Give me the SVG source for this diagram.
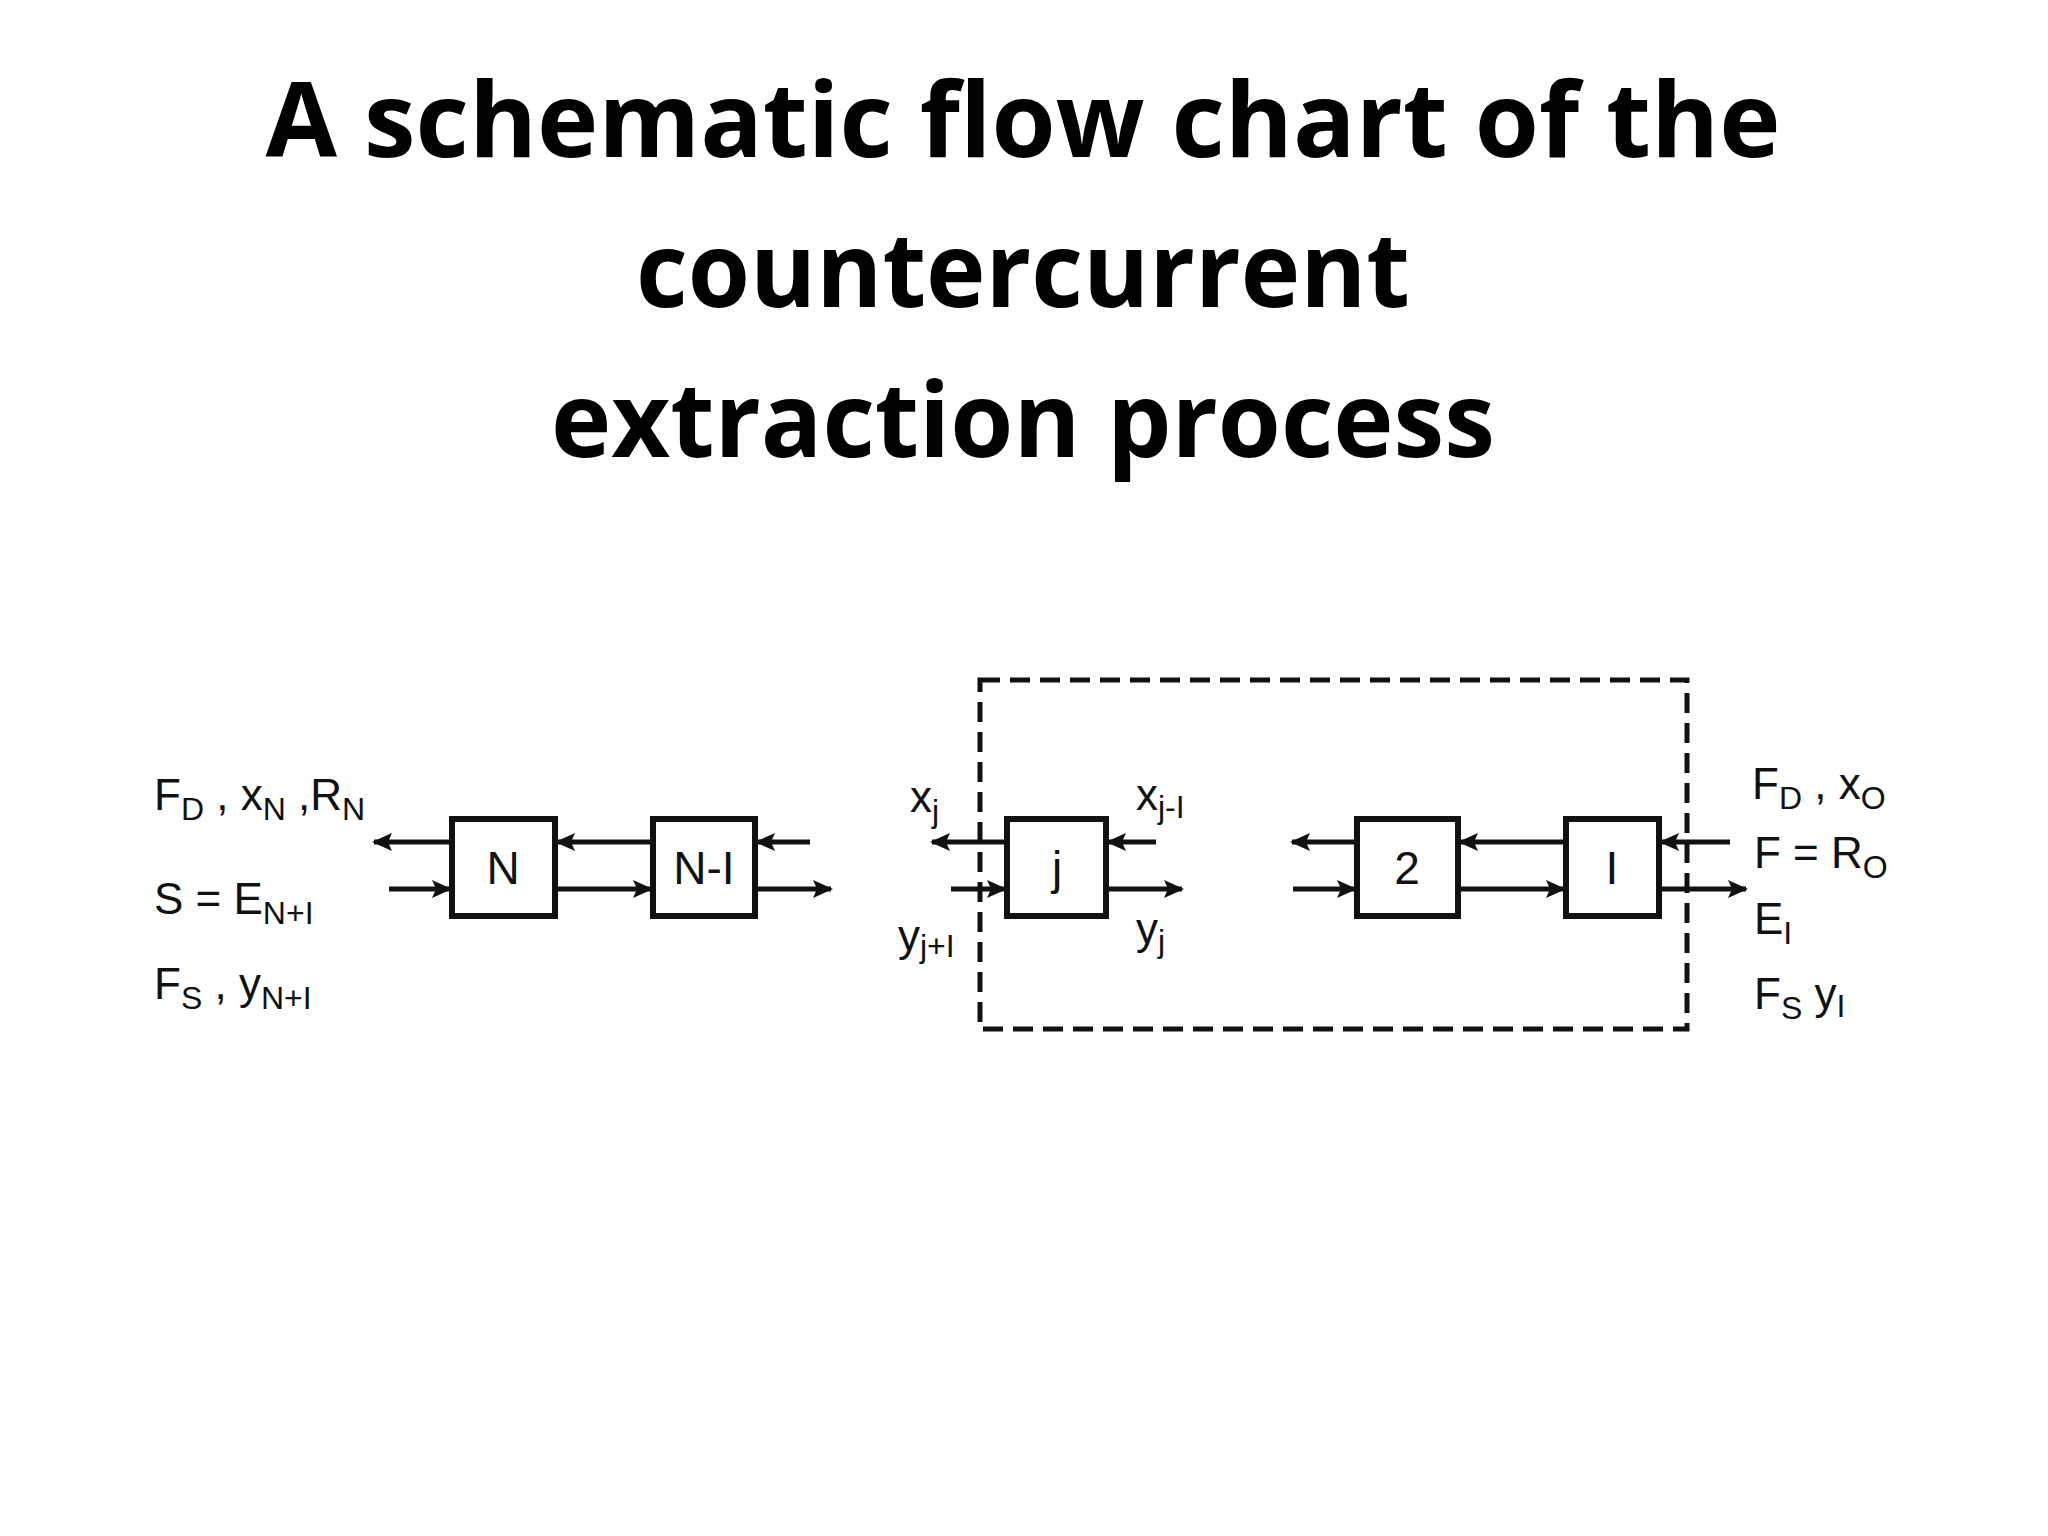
<svg xmlns="http://www.w3.org/2000/svg" width="2048" height="1536" viewBox="0 0 2048 1536">
<defs>
<style>
.t{font-family:"Open Sans","Liberation Sans",sans-serif;font-weight:bold;font-size:104px;fill:#000;text-anchor:middle}
.l{font-family:"Liberation Sans",Arial,sans-serif;font-size:44px;fill:#111}
.s{font-size:32px}
.b{font-family:"Liberation Sans",Arial,sans-serif;font-size:46px;fill:#111;text-anchor:middle}
rect.n{fill:#fff;stroke:#111;stroke-width:6}
.c line{stroke:#111;stroke-width:5;marker-end:url(#ah)}
</style>
<marker id="ah" viewBox="0 0 10 10" refX="9" refY="5" markerWidth="5.5" markerHeight="4" orient="auto" markerUnits="strokeWidth"><path d="M0,0.5 L10,5 L0,9.5 L2,5 z" fill="#111"/></marker>
</defs>
<rect width="2048" height="1536" fill="#fff"/>
<text class="t" x="1023" y="157" textLength="1515" lengthAdjust="spacingAndGlyphs">A schematic flow chart of the</text>
<text class="t" x="1023" y="307" textLength="774" lengthAdjust="spacingAndGlyphs">countercurrent</text>
<text class="t" x="1023" y="457" textLength="944" lengthAdjust="spacingAndGlyphs">extraction process</text>

<rect x="980" y="680" width="707" height="349" fill="none" stroke="#111" stroke-width="5" stroke-dasharray="20,10"/>

<g class="c" id="connectors">
<line x1="452" y1="842" x2="374" y2="842"/>
<line x1="653" y1="842" x2="557" y2="842"/>
<line x1="810" y1="842" x2="757" y2="842"/>
<line x1="389" y1="889" x2="450" y2="889"/>
<line x1="555" y1="889" x2="651" y2="889"/>
<line x1="755" y1="889" x2="831" y2="889"/>
<line x1="1007" y1="842" x2="932" y2="842"/>
<line x1="1156" y1="842" x2="1108" y2="842"/>
<line x1="951" y1="889" x2="1005" y2="889"/>
<line x1="1106" y1="889" x2="1182" y2="889"/>
<line x1="1357" y1="842" x2="1292" y2="842"/>
<line x1="1566" y1="842" x2="1460" y2="842"/>
<line x1="1730" y1="842" x2="1661" y2="842"/>
<line x1="1293" y1="889" x2="1355" y2="889"/>
<line x1="1458" y1="889" x2="1564" y2="889"/>
<line x1="1659" y1="889" x2="1746" y2="889"/>
</g>

<g id="nodeN"><rect class="n" x="452" y="819" width="103" height="97"/><text class="b" x="503" y="884">N</text></g>
<g id="nodeN1"><rect class="n" x="653" y="819" width="102" height="97"/><text class="b" x="704" y="884">N-I</text></g>
<g id="nodej"><rect class="n" x="1007" y="819" width="99" height="97"/><text class="b" x="1057" y="884">j</text></g>
<g id="node2"><rect class="n" x="1357" y="819" width="101" height="97"/><text class="b" x="1407" y="884">2</text></g>
<g id="node1"><rect class="n" x="1566" y="819" width="93" height="97"/><text class="b" x="1612" y="884">I</text></g>

<g id="labels">
<text class="l" x="154" y="810">F<tspan class="s" dy="10">D</tspan><tspan dy="-10"> , x</tspan><tspan class="s" dy="10">N</tspan><tspan dy="-10"> ,R</tspan><tspan class="s" dy="10">N</tspan></text>
<text class="l" x="154" y="914">S = E<tspan class="s" dy="10">N+I</tspan></text>
<text class="l" x="154" y="999">F<tspan class="s" dy="10">S</tspan><tspan dy="-10"> , y</tspan><tspan class="s" dy="10">N+I</tspan></text>
<text class="l" x="910" y="812">x<tspan class="s" dy="10">j</tspan></text>
<text class="l" x="898" y="951">y<tspan class="s" dy="6">j+I</tspan></text>
<text class="l" x="1136" y="810">x<tspan class="s" dy="8">j-I</tspan></text>
<text class="l" x="1136" y="944">y<tspan class="s" dy="8">j</tspan></text>
<text class="l" x="1752" y="799">F<tspan class="s" dy="10">D</tspan><tspan dy="-10"> , x</tspan><tspan class="s" dy="10">O</tspan></text>
<text class="l" x="1754" y="868">F = R<tspan class="s" dy="10">O</tspan></text>
<text class="l" x="1754" y="934">E<tspan class="s" dy="10">I</tspan></text>
<text class="l" x="1754" y="1009">F<tspan class="s" dy="10">S</tspan><tspan dy="-10">  y</tspan><tspan class="s" dy="8">I</tspan></text>
</g>
</svg>
